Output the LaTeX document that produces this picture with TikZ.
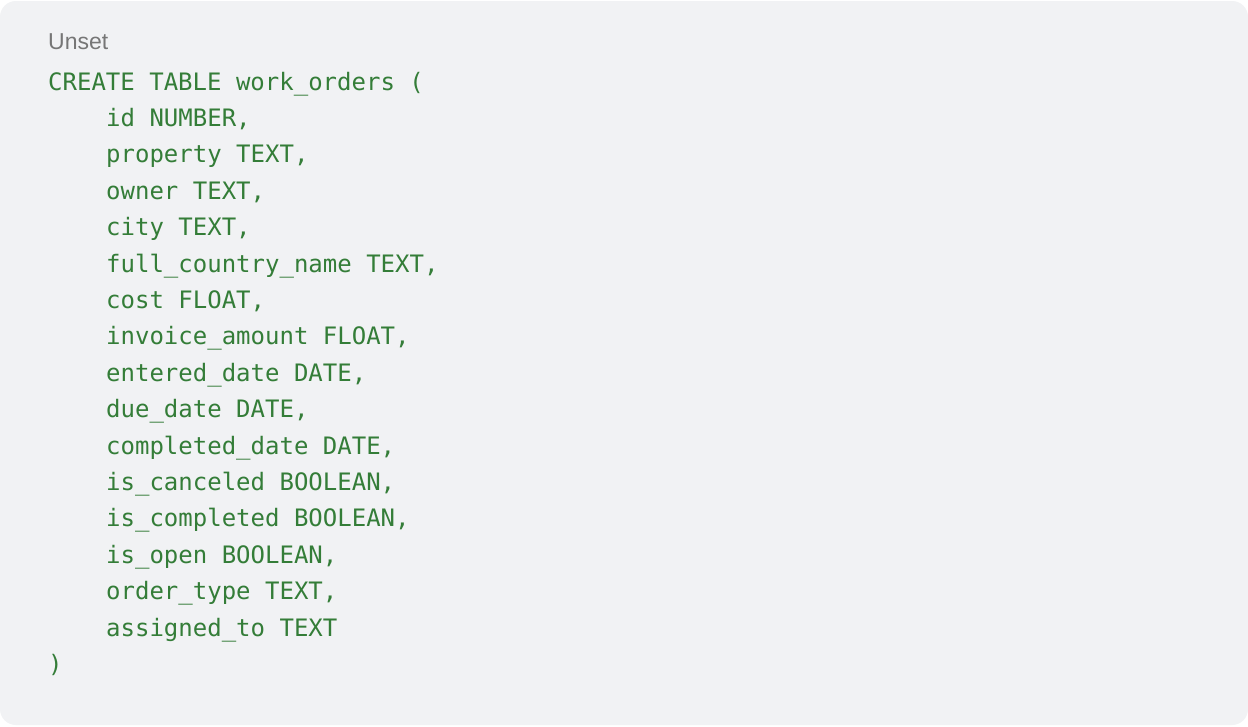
\documentclass[tikz,border=0pt]{standalone}
\usepackage{fontspec}
\setmonofont{DejaVu Sans Mono}
\setsansfont{Liberation Sans}
\usepackage{xcolor}
\usetikzlibrary{positioning}

\definecolor{panelgray}{HTML}{F1F2F4}
\definecolor{codegreen}{RGB}{52,125,56}
\definecolor{langgray}{HTML}{767676}

\tikzset{
  codeline/.style={inner sep=0pt, anchor=base west, text=codegreen, font=\ttfamily\fontsize{24}{24}\selectfont},
  langtag/.style={inner sep=0pt, anchor=base west, text=langgray, font=\sffamily\fontsize{23}{23}\selectfont}
}

\begin{document}
\begin{tikzpicture}[x=1pt, y=1pt]
    \useasboundingbox (0,0) rectangle (1248,-726);
    \fill[white] (0,0) rectangle (1248,-726);
    \fill[panelgray, rounded corners=16pt] (0,-1) rectangle (1248,-725);
    \node[langtag] (lang) at (48,-49) {Unset};
    \node[codeline] (create) at (48,-90) {CREATE TABLE work\_orders (};
    \foreach \i/\txt in {1/{id NUMBER,}, 2/{property TEXT,}, 3/{owner TEXT,}, 4/{city TEXT,},
        5/{full\_country\_name TEXT,}, 6/{cost FLOAT,}, 7/{invoice\_amount FLOAT,},
        8/{entered\_date DATE,}, 9/{due\_date DATE,}, 10/{completed\_date DATE,},
        11/{is\_canceled BOOLEAN,}, 12/{is\_completed BOOLEAN,}, 13/{is\_open BOOLEAN,},
        14/{order\_type TEXT,}, 15/{assigned\_to TEXT}}
        \node[codeline] (field\i) at (106,-90-36.4*\i) {\txt};
    \node[codeline] (close) at (48,-90-36.4*16) {)};
\end{tikzpicture}
\end{document}
